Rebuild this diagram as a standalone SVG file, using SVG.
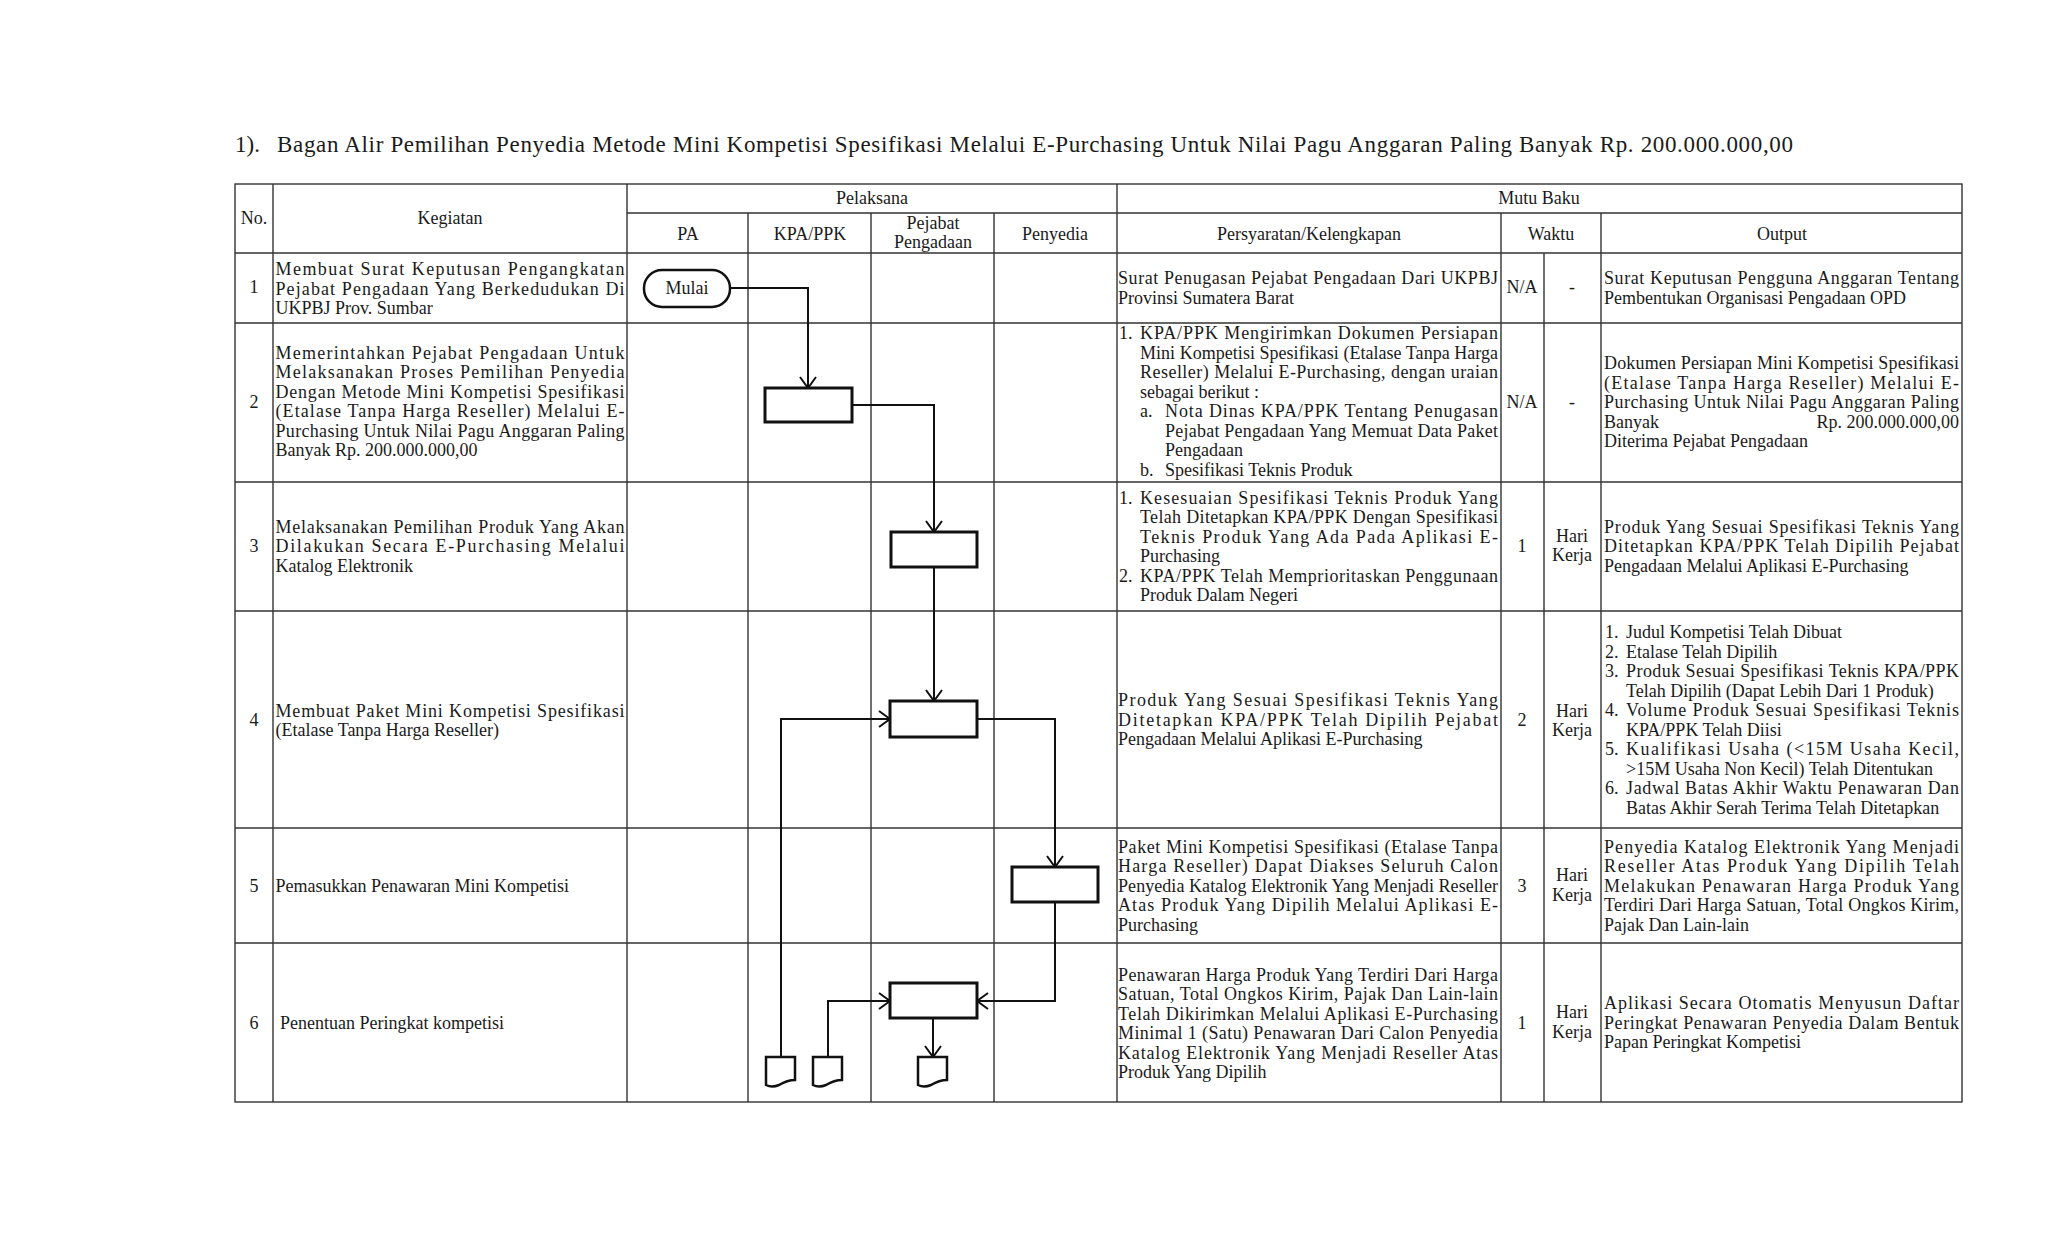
<svg xmlns="http://www.w3.org/2000/svg" width="2048" height="1243" viewBox="0 0 2048 1243">
<style>
.t{font-family:"Liberation Serif","Times New Roman",serif;font-size:18px;fill:#1a1a1a}
.c{text-anchor:middle}
.e{text-anchor:end}
.title{font-family:"Liberation Serif","Times New Roman",serif;font-size:23px;fill:#1a1a1a}
.grid{stroke:#333;stroke-width:1.4;fill:none}
.box{fill:#fff;stroke:#111;stroke-width:3}
.doc{fill:#fff;stroke:#111;stroke-width:2.5}
.conn{fill:none;stroke:#111;stroke-width:2}
</style>
<defs>
<marker id="arr" markerUnits="userSpaceOnUse" markerWidth="14" markerHeight="20" viewBox="-1 -10 13 20" refX="11" refY="0" orient="auto">
<path d="M0,-8 L11,0 L0,8" fill="none" stroke="#111" stroke-width="2"/>
</marker>
</defs>
<rect width="2048" height="1243" fill="#fff"/>

<text class="title" x="235" y="152">1).</text>
<text class="title" x="277" y="152" textLength="1516" lengthAdjust="spacing">Bagan Alir Pemilihan Penyedia Metode Mini Kompetisi Spesifikasi Melalui E-Purchasing Untuk Nilai Pagu Anggaran Paling Banyak Rp. 200.000.000,00</text>

<g id="table">
<rect class="grid" x="235" y="184" width="1727" height="918"/>
<path class="grid" d="M627,213H1962 M235,253H1962 M235,323H1962 M235,482H1962 M235,611H1962 M235,828H1962 M235,943H1962"/>
<path class="grid" d="M273,184V1102 M627,184V1102 M748,213V1102 M871,213V1102 M994,213V1102 M1117,184V1102 M1501,213V1102 M1544,253V1102 M1601,213V1102"/>
</g>

<g id="headers">
<text class="t c" x="254" y="224">No.</text>
<text class="t c" x="450" y="224">Kegiatan</text>
<text class="t c" x="872" y="204">Pelaksana</text>
<text class="t c" x="1539" y="204">Mutu Baku</text>
<text class="t c" x="688" y="240">PA</text>
<text class="t c" x="810" y="240">KPA/PPK</text>
<text class="t c" x="933" y="229">Pejabat</text>
<text class="t c" x="933" y="248">Pengadaan</text>
<text class="t c" x="1055" y="240">Penyedia</text>
<text class="t c" x="1309" y="240">Persyaratan/Kelengkapan</text>
<text class="t c" x="1551" y="240">Waktu</text>
<text class="t c" x="1782" y="240">Output</text>
</g>

<g id="row1">
<text class="t c" x="254" y="293">1</text>
<text class="t" x="275.5" y="275" textLength="349" lengthAdjust="spacing">Membuat Surat Keputusan Pengangkatan</text>
<text class="t" x="275.5" y="294.5" textLength="349" lengthAdjust="spacing">Pejabat Pengadaan Yang Berkedudukan Di</text>
<text class="t" x="275.5" y="314">UKPBJ Prov. Sumbar</text>
<text class="t" x="1118" y="284" textLength="380" lengthAdjust="spacing">Surat Penugasan Pejabat Pengadaan Dari UKPBJ</text>
<text class="t" x="1118" y="304">Provinsi Sumatera Barat</text>
<text class="t c" x="1522" y="293">N/A</text>
<text class="t c" x="1572" y="293">-</text>
<text class="t" x="1604" y="284" textLength="355" lengthAdjust="spacing">Surat Keputusan Pengguna Anggaran Tentang</text>
<text class="t" x="1604" y="304">Pembentukan Organisasi Pengadaan OPD</text>
</g>

<g id="row2">
<text class="t c" x="254" y="408">2</text>
<text class="t" x="275.5" y="358.5" textLength="349" lengthAdjust="spacing">Memerintahkan Pejabat Pengadaan Untuk</text>
<text class="t" x="275.5" y="378" textLength="349" lengthAdjust="spacing">Melaksanakan Proses Pemilihan Penyedia</text>
<text class="t" x="275.5" y="397.5" textLength="349" lengthAdjust="spacing">Dengan Metode Mini Kompetisi Spesifikasi</text>
<text class="t" x="275.5" y="417" textLength="349" lengthAdjust="spacing">(Etalase Tanpa Harga Reseller) Melalui E-</text>
<text class="t" x="275.5" y="436.5" textLength="349" lengthAdjust="spacing">Purchasing Untuk Nilai Pagu Anggaran Paling</text>
<text class="t" x="275.5" y="456">Banyak Rp. 200.000.000,00</text>
<text class="t" x="1119" y="339">1.</text>
<text class="t" x="1140" y="339" textLength="358" lengthAdjust="spacing">KPA/PPK Mengirimkan Dokumen Persiapan</text>
<text class="t" x="1140" y="358.5" textLength="358" lengthAdjust="spacing">Mini Kompetisi Spesifikasi (Etalase Tanpa Harga</text>
<text class="t" x="1140" y="378" textLength="358" lengthAdjust="spacing">Reseller) Melalui E-Purchasing, dengan uraian</text>
<text class="t" x="1140" y="397.5">sebagai berikut :</text>
<text class="t" x="1140" y="417">a.</text>
<text class="t" x="1165" y="417" textLength="333" lengthAdjust="spacing">Nota Dinas KPA/PPK Tentang Penugasan</text>
<text class="t" x="1165" y="436.5" textLength="333" lengthAdjust="spacing">Pejabat Pengadaan Yang Memuat Data Paket</text>
<text class="t" x="1165" y="456">Pengadaan</text>
<text class="t" x="1140" y="475.5">b.</text>
<text class="t" x="1165" y="475.5">Spesifikasi Teknis Produk</text>
<text class="t c" x="1522" y="408">N/A</text>
<text class="t c" x="1572" y="408">-</text>
<text class="t" x="1604" y="369" textLength="355" lengthAdjust="spacing">Dokumen Persiapan Mini Kompetisi Spesifikasi</text>
<text class="t" x="1604" y="388.5" textLength="355" lengthAdjust="spacing">(Etalase Tanpa Harga Reseller) Melalui E-</text>
<text class="t" x="1604" y="408" textLength="355" lengthAdjust="spacing">Purchasing Untuk Nilai Pagu Anggaran Paling</text>
<text class="t" x="1604" y="427.5">Banyak</text>
<text class="t e" x="1959" y="427.5">Rp. 200.000.000,00</text>
<text class="t" x="1604" y="447">Diterima Pejabat Pengadaan</text>
</g>

<g id="row3">
<text class="t c" x="254" y="552">3</text>
<text class="t" x="275.5" y="532.5" textLength="349" lengthAdjust="spacing">Melaksanakan Pemilihan Produk Yang Akan</text>
<text class="t" x="275.5" y="552" textLength="349" lengthAdjust="spacing">Dilakukan Secara E-Purchasing Melalui</text>
<text class="t" x="275.5" y="571.5">Katalog Elektronik</text>
<text class="t" x="1119" y="503.5">1.</text>
<text class="t" x="1140" y="503.5" textLength="358" lengthAdjust="spacing">Kesesuaian Spesifikasi Teknis Produk Yang</text>
<text class="t" x="1140" y="523" textLength="358" lengthAdjust="spacing">Telah Ditetapkan KPA/PPK Dengan Spesifikasi</text>
<text class="t" x="1140" y="542.5" textLength="358" lengthAdjust="spacing">Teknis Produk Yang Ada Pada Aplikasi E-</text>
<text class="t" x="1140" y="562">Purchasing</text>
<text class="t" x="1119" y="581.5">2.</text>
<text class="t" x="1140" y="581.5" textLength="358" lengthAdjust="spacing">KPA/PPK Telah Memprioritaskan Penggunaan</text>
<text class="t" x="1140" y="601">Produk Dalam Negeri</text>
<text class="t c" x="1522" y="552">1</text>
<text class="t c" x="1572" y="541.5">Hari</text>
<text class="t c" x="1572" y="561">Kerja</text>
<text class="t" x="1604" y="532.5" textLength="355" lengthAdjust="spacing">Produk Yang Sesuai Spesifikasi Teknis Yang</text>
<text class="t" x="1604" y="552" textLength="355" lengthAdjust="spacing">Ditetapkan KPA/PPK Telah Dipilih Pejabat</text>
<text class="t" x="1604" y="571.5">Pengadaan Melalui Aplikasi E-Purchasing</text>
</g>

<g id="row4">
<text class="t c" x="254" y="726">4</text>
<text class="t" x="275.5" y="716.5" textLength="349" lengthAdjust="spacing">Membuat Paket Mini Kompetisi Spesifikasi</text>
<text class="t" x="275.5" y="736">(Etalase Tanpa Harga Reseller)</text>
<text class="t" x="1118" y="706" textLength="380" lengthAdjust="spacing">Produk Yang Sesuai Spesifikasi Teknis Yang</text>
<text class="t" x="1118" y="725.5" textLength="380" lengthAdjust="spacing">Ditetapkan KPA/PPK Telah Dipilih Pejabat</text>
<text class="t" x="1118" y="745">Pengadaan Melalui Aplikasi E-Purchasing</text>
<text class="t c" x="1522" y="726">2</text>
<text class="t c" x="1572" y="716.5">Hari</text>
<text class="t c" x="1572" y="736">Kerja</text>
<text class="t" x="1605" y="638">1.</text>
<text class="t" x="1626" y="638">Judul Kompetisi Telah Dibuat</text>
<text class="t" x="1605" y="657.5">2.</text>
<text class="t" x="1626" y="657.5">Etalase Telah Dipilih</text>
<text class="t" x="1605" y="677">3.</text>
<text class="t" x="1626" y="677" textLength="333" lengthAdjust="spacing">Produk Sesuai Spesifikasi Teknis KPA/PPK</text>
<text class="t" x="1626" y="696.5">Telah Dipilih (Dapat Lebih Dari 1 Produk)</text>
<text class="t" x="1605" y="716">4.</text>
<text class="t" x="1626" y="716" textLength="333" lengthAdjust="spacing">Volume Produk Sesuai Spesifikasi Teknis</text>
<text class="t" x="1626" y="735.5">KPA/PPK Telah Diisi</text>
<text class="t" x="1605" y="755">5.</text>
<text class="t" x="1626" y="755" textLength="333" lengthAdjust="spacing">Kualifikasi Usaha (&lt;15M Usaha Kecil,</text>
<text class="t" x="1626" y="774.5">&gt;15M Usaha Non Kecil) Telah Ditentukan</text>
<text class="t" x="1605" y="794">6.</text>
<text class="t" x="1626" y="794" textLength="333" lengthAdjust="spacing">Jadwal Batas Akhir Waktu Penawaran Dan</text>
<text class="t" x="1626" y="813.5">Batas Akhir Serah Terima Telah Ditetapkan</text>
</g>

<g id="row5">
<text class="t c" x="254" y="891.5">5</text>
<text class="t" x="275.5" y="891.5">Pemasukkan Penawaran Mini Kompetisi</text>
<text class="t" x="1118" y="852.5" textLength="380" lengthAdjust="spacing">Paket Mini Kompetisi Spesifikasi (Etalase Tanpa</text>
<text class="t" x="1118" y="872" textLength="380" lengthAdjust="spacing">Harga Reseller) Dapat Diakses Seluruh Calon</text>
<text class="t" x="1118" y="891.5" textLength="380" lengthAdjust="spacing">Penyedia Katalog Elektronik Yang Menjadi Reseller</text>
<text class="t" x="1118" y="911" textLength="380" lengthAdjust="spacing">Atas Produk Yang Dipilih Melalui Aplikasi E-</text>
<text class="t" x="1118" y="930.5">Purchasing</text>
<text class="t c" x="1522" y="891.5">3</text>
<text class="t c" x="1572" y="881">Hari</text>
<text class="t c" x="1572" y="900.5">Kerja</text>
<text class="t" x="1604" y="852.5" textLength="355" lengthAdjust="spacing">Penyedia Katalog Elektronik Yang Menjadi</text>
<text class="t" x="1604" y="872" textLength="355" lengthAdjust="spacing">Reseller Atas Produk Yang Dipilih Telah</text>
<text class="t" x="1604" y="891.5" textLength="355" lengthAdjust="spacing">Melakukan Penawaran Harga Produk Yang</text>
<text class="t" x="1604" y="911" textLength="355" lengthAdjust="spacing">Terdiri Dari Harga Satuan, Total Ongkos Kirim,</text>
<text class="t" x="1604" y="930.5">Pajak Dan Lain-lain</text>
</g>

<g id="row6">
<text class="t c" x="254" y="1029">6</text>
<text class="t" x="280" y="1029">Penentuan Peringkat kompetisi</text>
<text class="t" x="1118" y="980.5" textLength="380" lengthAdjust="spacing">Penawaran Harga Produk Yang Terdiri Dari Harga</text>
<text class="t" x="1118" y="1000" textLength="380" lengthAdjust="spacing">Satuan, Total Ongkos Kirim, Pajak Dan Lain-lain</text>
<text class="t" x="1118" y="1019.5" textLength="380" lengthAdjust="spacing">Telah Dikirimkan Melalui Aplikasi E-Purchasing</text>
<text class="t" x="1118" y="1039" textLength="380" lengthAdjust="spacing">Minimal 1 (Satu) Penawaran Dari Calon Penyedia</text>
<text class="t" x="1118" y="1058.5" textLength="380" lengthAdjust="spacing">Katalog Elektronik Yang Menjadi Reseller Atas</text>
<text class="t" x="1118" y="1078">Produk Yang Dipilih</text>
<text class="t c" x="1522" y="1029">1</text>
<text class="t c" x="1572" y="1018">Hari</text>
<text class="t c" x="1572" y="1037.5">Kerja</text>
<text class="t" x="1604" y="1009" textLength="355" lengthAdjust="spacing">Aplikasi Secara Otomatis Menyusun Daftar</text>
<text class="t" x="1604" y="1028.5" textLength="355" lengthAdjust="spacing">Peringkat Penawaran Penyedia Dalam Bentuk</text>
<text class="t" x="1604" y="1048">Papan Peringkat Kompetisi</text>
</g>

<g id="connectors">
<path class="conn" d="M730,288H808V388" marker-end="url(#arr)"/>
<path class="conn" d="M852,405H934V532" marker-end="url(#arr)"/>
<path class="conn" d="M934,567V701" marker-end="url(#arr)"/>
<path class="conn" d="M781,1057V719H890" marker-end="url(#arr)"/>
<path class="conn" d="M977,719H1055V867" marker-end="url(#arr)"/>
<path class="conn" d="M1055,902V1001H977" marker-end="url(#arr)"/>
<path class="conn" d="M828,1057V1001H890" marker-end="url(#arr)"/>
<path class="conn" d="M933,1018V1057" marker-end="url(#arr)"/>
</g>

<g id="mulai">
<rect x="644" y="270" width="86" height="37" rx="18" fill="#fff" stroke="#111" stroke-width="2.5"/>
<text class="t c" x="687" y="294">Mulai</text>
</g>
<g id="box2"><rect class="box" x="765" y="388" width="87" height="34"/></g>
<g id="box3"><rect class="box" x="891" y="532" width="86" height="35"/></g>
<g id="box4"><rect class="box" x="890" y="701" width="87" height="36"/></g>
<g id="box5"><rect class="box" x="1012" y="867" width="86" height="35"/></g>
<g id="box6"><rect class="box" x="890" y="983" width="87" height="35"/></g>
<g id="doc1"><path class="doc" d="M766,1057H795V1080C789,1080 784,1082 779,1085C774,1087 770,1087 766,1085Z"/></g>
<g id="doc2"><path class="doc" d="M813,1057H842V1080C836,1080 831,1082 826,1085C821,1087 817,1087 813,1085Z"/></g>
<g id="doc3"><path class="doc" d="M918,1057H947V1080C941,1080 936,1082 931,1085C926,1087 922,1087 918,1085Z"/></g>
</svg>
